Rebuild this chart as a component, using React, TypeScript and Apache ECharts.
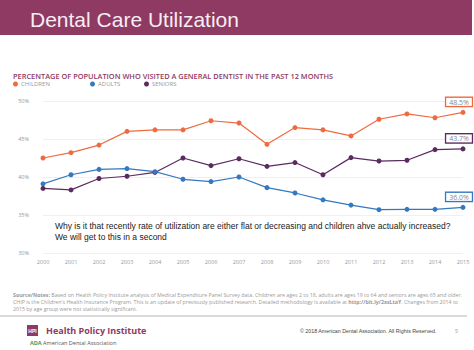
import React, { useEffect, useRef } from "react";
import * as echarts from "echarts";

const years = ["2000","2001","2002","2003","2004","2005","2006","2007","2008","2009","2010","2011","2012","2013","2014","2015"];
const children = [42.5, 43.2, 44.2, 46.0, 46.2, 46.2, 47.4, 47.1, 44.3, 46.5, 46.2, 45.4, 47.6, 48.3, 47.8, 48.5];
const adults = [39.1, 40.3, 41.0, 41.1, 40.7, 39.7, 39.4, 40.0, 38.6, 37.9, 37.0, 36.3, 35.7, 35.75, 35.75, 36.0];
const seniors = [38.5, 38.3, 39.8, 40.1, 40.6, 42.5, 41.5, 42.4, 41.4, 41.9, 40.3, 42.55, 42.1, 42.2, 43.6, 43.7];
const seriesNames = ["CHILDREN", "ADULTS", "SENIORS"];
const seriesColors = ["#EE6B3F", "#3478C0", "#5B2A5F"];
const yTicks = { min: 30, max: 50, interval: 5 };

const MAGENTA = "#8E3A62";

export default function App() {
  const ref = useRef<HTMLDivElement>(null);
  useEffect(() => {
    const chart = echarts.init(ref.current!, undefined, { renderer: "svg" });
    const all = [children, adults, seniors];
    const mk = (vals: number[], i: number) => ({
      name: seriesNames[i],
      type: "line",
      data: vals.map((v, j) =>
        j === vals.length - 1
          ? {
              value: v,
              label: {
                show: true,
                position: "top",
                distance: 4,
                offset: [-4, 0],
                formatter: (p: any) => p.value.toFixed(1) + "%",
                color: "#888",
                fontSize: 7,
                fontFamily: "Open Sans",
                backgroundColor: "#fff",
                borderColor: seriesColors[i],
                borderWidth: 1.3,
                padding: [1, 3, 0, 3],
              },
            }
          : v
      ),
      symbol: "circle",
      symbolSize: 5,
      lineStyle: { width: 1.2, color: seriesColors[i] },
      itemStyle: { color: seriesColors[i] },
      z: 3 + (2 - i),
    });
    const legendLefts = [13, 90, 144];
    const note = { fill: "#999", font: "5.25px 'Open Sans'", verticalAlign: "middle" };
    const noteRich = { b: { fontWeight: "bold", fill: "#999", fontSize: 5.25, fontFamily: "Open Sans" } };
    chart.setOption({
      animation: false,
      grid: { left: 43, right: 11, top: 101, bottom: 97 },
      legend: seriesNames.map((n, i) => ({
        data: [n],
        left: legendLefts[i],
        top: 81,
        icon: "circle",
        itemWidth: 5,
        itemHeight: 5,
        itemGap: 2,
        padding: 0,
        textStyle: { color: "#999", fontSize: 6, fontFamily: "Open Sans", padding: [0, 0, 0, -2] },
      })),
      xAxis: {
        type: "category",
        data: years,
        boundaryGap: false,
        axisLine: { show: false },
        axisTick: { show: false },
        axisLabel: { color: "#999", fontSize: 5.5, margin: 6, fontFamily: "Open Sans" },
      },
      yAxis: {
        type: "value",
        min: yTicks.min,
        max: yTicks.max,
        interval: yTicks.interval,
        axisLabel: { color: "#999", fontSize: 5.5, margin: 14, formatter: "{value}%", fontFamily: "Open Sans" },
        splitLine: { lineStyle: { color: "#ececec", width: 0.8 } },
      },
      series: all.map((v, i) => mk(v, i)),
      graphic: [
        { type: "rect", shape: { x: 0, y: 0, width: 472, height: 35 }, style: { fill: MAGENTA } },
        {
          type: "text",
          x: 30,
          y: 19,
          style: { text: "Dental Care Utilization", fill: "#F7EEF3", font: "21px Arial", verticalAlign: "middle" },
        },
        {
          type: "text",
          x: 13,
          y: 75.5,
          style: {
            text: "PERCENTAGE OF POPULATION WHO VISITED A GENERAL DENTIST IN THE PAST 12 MONTHS",
            fill: MAGENTA,
            font: "600 7.4px 'Open Sans'",
            verticalAlign: "middle",
          },
        },
        {
          type: "text",
          x: 55,
          y: 226,
          style: {
            text: "Why is it that recently rate of utilization are either flat or decreasing and children ahve actually increased?",
            fill: "#1a1a1a",
            font: "8.5px Arial",
            verticalAlign: "middle",
          },
        },
        {
          type: "text",
          x: 55,
          y: 237,
          style: { text: "We will get to this in a second", fill: "#1a1a1a", font: "8.5px Arial", verticalAlign: "middle" },
        },
        {
          type: "text",
          x: 13,
          y: 294.5,
          style: {
            ...note,
            text: "{b|Source/Notes:} Based on Health Policy Institute analysis of Medical Expenditure Panel Survey data. Children are ages 2 to 18, adults are ages 19 to 64 and seniors are ages 65 and older.",
            rich: noteRich,
          },
        },
        {
          type: "text",
          x: 13,
          y: 302,
          style: {
            ...note,
            text: "CHIP is the Children's Health Insurance Program. This is an update of previously published research. Detailed methodology is available at {b|http://bit.ly/2xsLtaY}. Changes from 2014 to",
            rich: noteRich,
          },
        },
        {
          type: "text",
          x: 13,
          y: 309,
          style: { ...note, text: "2015 by age group were not statistically significant." },
        },
        { type: "line", shape: { x1: 0, y1: 316, x2: 467, y2: 316 }, style: { stroke: "#b5b5b5", lineWidth: 1 } },
        { type: "rect", shape: { x: 27, y: 325, width: 11, height: 11 }, style: { fill: MAGENTA } },
        {
          type: "text",
          x: 32.5,
          y: 330.5,
          style: { text: "HPI", fill: "#fff", font: "bold 5px Arial", align: "center", verticalAlign: "middle" },
        },
        {
          type: "text",
          x: 46,
          y: 330.5,
          style: { text: "Health Policy Institute", fill: MAGENTA, font: "bold 9px 'Open Sans'", verticalAlign: "middle" },
        },
        {
          type: "text",
          x: 30,
          y: 343,
          style: {
            text: "{g|ADA} American Dental Association",
            fill: "#555",
            font: "5.5px 'Open Sans'",
            verticalAlign: "middle",
            rich: { g: { fill: "#3E9A6B", fontSize: 5.5, fontFamily: "Open Sans", fontWeight: "bold" } },
          },
        },
        {
          type: "text",
          x: 300,
          y: 330.5,
          style: {
            text: "© 2018 American Dental Association. All Rights Reserved.",
            fill: "#444",
            font: "5.3px Arial",
            verticalAlign: "middle",
          },
        },
        {
          type: "text",
          x: 455,
          y: 330.5,
          style: { text: "5", fill: "#aaa", font: "5.5px Arial", verticalAlign: "middle" },
        },
      ],
    });
    return () => chart.dispose();
  }, []);
  return <div ref={ref} style={{ position: "fixed", left: 0, top: 0, width: 474, height: 350, background: "#fff" }} />;
}
